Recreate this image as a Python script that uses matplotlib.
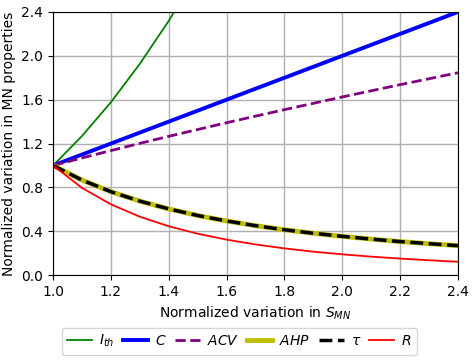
import matplotlib
matplotlib.use("Agg")
import matplotlib.pyplot as plt

# Normalized variation in S_MN
s_mn = [1.0, 1.1, 1.2, 1.3, 1.4, 1.5, 1.6, 1.7, 1.8, 1.9, 2.0, 2.1, 2.2, 2.3, 2.4]

# MN properties
i_th = [1.0, 1.269, 1.577, 1.927, 2.319, 2.756]
cap = [1.0, 1.1, 1.2, 1.3, 1.4, 1.5, 1.6, 1.7, 1.8, 1.9, 2.0, 2.1, 2.2, 2.3, 2.4]
acv = [1.0, 1.069, 1.136, 1.202, 1.266, 1.328, 1.390, 1.450, 1.509, 1.567,
       1.625, 1.681, 1.737, 1.791, 1.846]
ahp = [1.0, 0.867, 0.761, 0.675, 0.604, 0.544, 0.494, 0.451, 0.414, 0.382,
       0.354, 0.329, 0.306, 0.287, 0.269]
tau = ahp
res = [1.0, 0.796, 0.646, 0.533, 0.446, 0.378, 0.324, 0.280, 0.244, 0.214,
       0.190, 0.169, 0.151, 0.136, 0.122]

fig = plt.figure(figsize=(4.74, 3.63), dpi=100)
ax = fig.add_axes([0.112, 0.242, 0.854, 0.725])

ax.plot(s_mn[:len(i_th)], i_th, color="green", linewidth=1.3, label=r"$I_{th}$")
ax.plot(s_mn, cap, color="blue", linewidth=2.8, label=r"$C$")
ax.plot(s_mn, acv, color="purple", linewidth=2, linestyle="--", label=r"$ACV$")
ax.plot(s_mn, ahp, color="y", linewidth=3.5, label=r"$AHP$")
ax.plot(s_mn, tau, color="black", linewidth=2.5, linestyle="--", label=r"$\tau$")
ax.plot(s_mn, res, color="red", linewidth=1.3, label=r"$R$")

ax.set_xlim(1.0, 2.4)
ax.set_ylim(0.0, 2.4)
ax.set_xticks([1.0, 1.2, 1.4, 1.6, 1.8, 2.0, 2.2, 2.4])
ax.set_yticks([0.0, 0.4, 0.8, 1.2, 1.6, 2.0, 2.4])
ax.tick_params(labelsize=10)
ax.grid(True, color="#b0b0b0", linewidth=1)
ax.set_xlabel(r"Normalized variation in $S_{MN}$", fontsize=10)
ax.set_ylabel("Normalized variation in MN properties", fontsize=10)

fig.legend(loc="lower center", bbox_to_anchor=(0.505, 0.022), ncol=6, fontsize=10,
           handlelength=1.8, columnspacing=0.6, handletextpad=0.5,
           borderaxespad=0)

fig.savefig("out.png", dpi=100)
